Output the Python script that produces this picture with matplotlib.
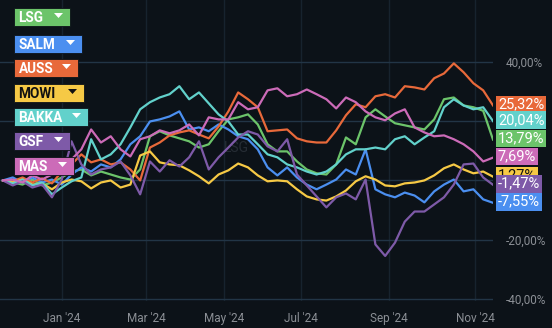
import numpy as np
import pandas as pd
import matplotlib.pyplot as plt
from matplotlib.patches import Rectangle, Polygon

plt.rcParams['font.family'] = ['Roboto', 'DejaVu Sans']

# Oslo Bors trading days for the year shown
holidays = ["2023-12-25", "2023-12-26", "2024-01-01", "2024-03-28", "2024-03-29",
            "2024-04-01", "2024-05-01", "2024-05-09", "2024-05-17", "2024-05-20"]
tdays = pd.bdate_range("2023-11-16", "2024-11-14", freq="C", holidays=holidays)
sample_days = tdays[::5]  # one reading per week

tickers = ["LSG", "SALM", "AUSS", "MOWI", "BAKKA", "GSF", "MAS"]
colors = ["#6cc46a", "#4b8ff0", "#e8693a", "#f6c945", "#62d1cb", "#7e5aa8", "#cc6bb8"]

# % change since start
lsg = [0, -0.7, -1.4, 0.3, -1.7, -0.7, 1.0, 3.0, 3.7, 1.7, 3.0, 2.0, 1.0, 0.3, 3.7, 14.9, 16.6,
       15.2, 14.2, 13.2, 11.1, 12.2, 16.6, 20.6, 21.3, 22.3, 18.9, 12.2, 9.8, 9.8, 6.4, 3.7, 2.4,
       2.0, 5.4, 14.5, 12.2, 21.3, 24.0, 21.6, 19.3, 18.6, 17.9, 17.2, 20.6, 27.4, 28.0, 25.3,
       24.7, 23.5, 13.79]
salm = [0, 1.0, -0.7, 1.0, -0.7, 0.3, -1.4, 2.0, 4.4, 3.0, 5.4, 4.4, 7.1, 12.2, 14.9, 19.9, 20.6,
        21.6, 23.3, 17.2, 17.9, 16.6, 18.9, 17.2, 14.9, 13.9, 10.5, 4.4, 1.7, 4.4, 1.0, -1.4, -3.0,
        -1.4, 0.3, 3.7, 2.0, 10.5, -3.0, -4.7, -5.7, -4.1, -5.1, -7.4, -3.7, -1.4, 0.3, -3.7,
        -3.0, -6.4, -7.55]
auss = [0, -0.3, 1.0, -0.7, 0.7, -1.0, 3.0, 5.4, 8.8, 6.1, 7.1, 5.4, 6.1, 3.7, 0.0, 11.1, 12.8,
        15.2, 16.2, 16.9, 15.5, 14.2, 18.2, 23.3, 29.7, 27.4, 24.7, 16.6, 16.9, 17.2, 14.2, 13.2,
        12.8, 12.8, 16.9, 22.0, 25.7, 24.7, 28.4, 29.1, 28.0, 31.8, 31.4, 30.7, 34.5, 36.1, 39.5,
        36.5, 32.8, 30.4, 25.32]
mowi = [0, -0.7, 0.3, -1.4, -1.0, -3.0, -0.7, 0.3, -0.3, -2.7, -0.7, 0.0, -2.4, -1.4, 8.4, 9.8,
        6.1, 5.4, 5.1, 3.4, 1.4, -1.0, 2.0, 3.4, 5.7, 4.4, 1.7, -0.3, 0.0, -0.3, -3.0, -5.4, -6.4,
        -6.8, -5.4, -3.4, -0.3, 1.4, 0.3, -1.7, -2.0, -1.0, -0.7, 0.0, 1.7, 4.1, 5.4, 3.7, 2.4,
        3.0, 1.27]
bakka = [0, -1.0, 0.3, -1.7, -0.7, -4.7, -2.4, -0.3, 1.0, 13.9, 7.1, 8.8, 12.2, 17.9, 24.0, 26.4,
         28.0, 29.1, 31.8, 27.4, 29.7, 26.0, 22.3, 19.9, 15.5, 15.5, 12.2, 8.8, 7.8, 5.4, 4.4, 3.0,
         2.0, 3.0, 5.4, 8.8, 10.5, 10.5, 11.1, 10.5, 13.9, 14.9, 12.2, 14.5, 16.6, 24.7, 27.4,
         25.3, 24.0, 24.7, 20.04]
gsf = [0, -1.7, -0.3, -2.4, -1.4, -5.7, 0.3, 13.2, 5.4, 2.0, 3.7, 4.4, 6.4, 1.7, -4.7, 6.4, 3.0,
       6.8, 4.7, 7.8, 13.2, 3.7, 7.8, 11.1, 14.5, 16.6, 15.5, 11.5, 9.8, 13.9, 2.0, -1.7, -5.4,
       -9.1, -5.7, -4.4, -6.4, 0.3, -21.6, -25.5, -21.0, -13.9, -10.5, -10.5, -8.1, -5.7, -1.4,
       5.4, 5.7, 1.0, -1.47]
mas = [0, 0.3, -0.7, 1.7, 0.3, 2.0, 3.7, 7.1, 10.5, 17.2, 12.8, 14.9, 10.5, 8.1, 13.9, 14.9, 16.9,
       15.9, 16.9, 18.9, 15.2, 21.3, 20.6, 20.6, 26.4, 24.0, 24.7, 30.4, 31.1, 28.4, 29.1, 30.7,
       29.1, 27.4, 24.3, 28.0, 26.4, 23.3, 21.3, 20.3, 22.6, 24.0, 17.9, 16.2, 14.9, 15.2, 13.9,
       12.2, 9.8, 6.4, 7.69]

series = [lsg, salm, auss, mowi, bakka, gsf, mas]

month_labels = ["Jan '24", "Mar '24", "May '24", "Jul '24", "Sep '24", "Nov '24"]
month_starts = ["2024-01-01", "2024-03-01", "2024-05-01", "2024-07-01", "2024-09-01", "2024-11-01"]
y_ticks = [-40, -20, 0, 20, 40]
y_labelled = [-40, -20, 40]  # 0% and 20% sit behind the value tags

bg = "#0c1218"
W, H = 552, 328

fig = plt.figure(figsize=(W / 100, H / 100), dpi=100, facecolor=bg)
ax = fig.add_axes([0, 1 - 301 / H, 493 / W, 301 / H])
ax.set_facecolor(bg)
for s in ax.spines.values():
    s.set_visible(False)

x = tdays.get_indexer(sample_days)
for name, vals, c in zip(tickers, series, colors):
    ax.plot(x, vals, color=c, lw=1.6, solid_joinstyle="round", zorder=3)

ax.set_xlim(-1.5, len(tdays) - 1)
ax.set_ylim(-40.7, 60.9)

tick_pos = tdays.searchsorted(pd.to_datetime(month_starts))
ax.set_xticks(tick_pos, month_labels)
ax.set_yticks(y_ticks, [f"{v:.2f}%".replace(".", ",") if v in y_labelled else "" for v in y_ticks])
ax.yaxis.tick_right()
ax.tick_params(axis="x", length=0, pad=8, labelsize=8.5, labelcolor="#8b8f95")
ax.tick_params(axis="y", length=0, pad=9, labelsize=8.5, labelcolor="#8b8f95")
ax.grid(axis="y", color="#223546", lw=1, zorder=1)
ax.grid(axis="x", color="#17232e", lw=1, zorder=1)

# faint watermark
ax.text(0.479, 0.508, "LSG", transform=ax.transAxes, color="#262d35", fontsize=10,
        ha="center", va="center", zorder=2)

# last-value tags on the right
order = sorted(range(len(tickers)), key=lambda i: -series[i][-1])
for k, i in enumerate(order):
    v = series[i][-1]
    ax.annotate(f"{v:.2f}%".replace(".", ","), xy=(1, v), xycoords=("axes fraction", "data"),
                xytext=(5, 1), textcoords="offset pixels", ha="left", va="center",
                fontsize=10.5, color="#111111" if tickers[i] == "MOWI" else "white",
                annotation_clip=False, zorder=10 + k,
                bbox=dict(boxstyle="square,pad=0.12", fc=colors[i], ec="none"))

# legend buttons (pixel coordinates)
ov = fig.add_axes([0, 0, 1, 1])
ov.set_xlim(0, W)
ov.set_ylim(H, 0)
ov.axis("off")
ov.patch.set_alpha(0)
widths = [56, 68, 64, 70, 74, 56, 60]
tops = [8, 35, 59, 84, 108, 132, 157]
for name, c, w, t in zip(tickers, colors, widths, tops):
    ov.add_patch(Rectangle((14, t), w, 18, fc=c, ec="#0c1218", lw=0.6))
    tc = "#111111" if name == "MOWI" else "white"
    ov.text(18.5, t + 9.8, name, color=tc, fontsize=9.8, fontweight="bold", va="center", ha="left")
    r = 14 + w - 7
    ov.add_patch(Polygon([(r - 9, t + 5), (r, t + 5), (r - 4.5, t + 10)], closed=True, fc=tc, ec="none"))

fig.savefig("out.png", dpi=100, facecolor=bg)
